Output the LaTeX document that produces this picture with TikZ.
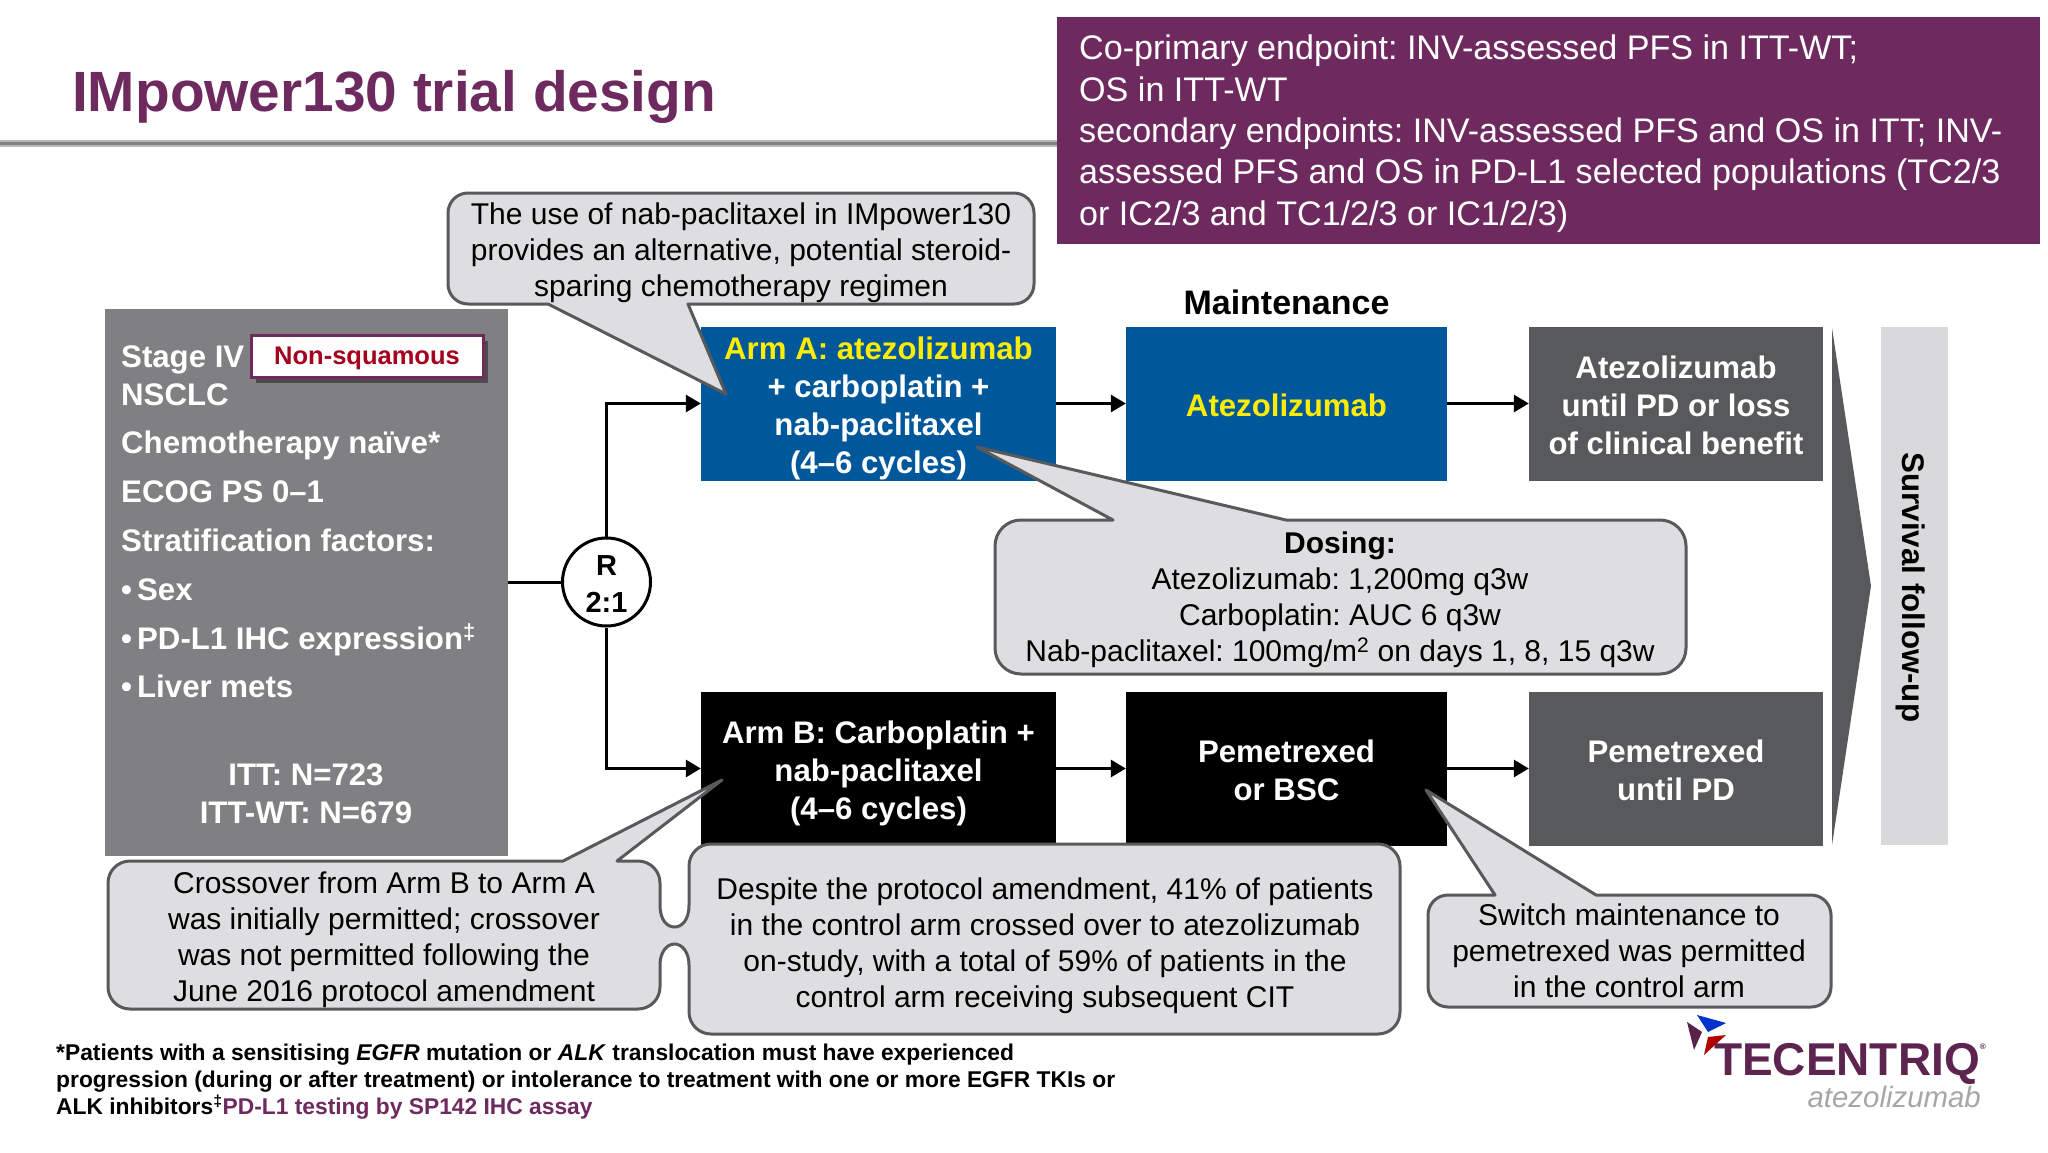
\documentclass[tikz,border=0pt]{standalone}
\usepackage{fontspec}
\setmainfont{Liberation Sans}
\usetikzlibrary{shapes.geometric, arrows.meta, shadows}
\definecolor{trialpurple}{HTML}{6E2A5E}
\definecolor{armblue}{HTML}{00589B}
\definecolor{darkgrey}{HTML}{58595B}
\definecolor{midgrey}{HTML}{808083}
\definecolor{bubblegrey}{HTML}{DEDDE0}
\definecolor{lightgrey}{HTML}{D9D9DB}
\definecolor{armyellow}{HTML}{FFED00}
\definecolor{squamred}{HTML}{A6001E}
\newcommand{\bodyfont}{\fontsize{31.2}{38}\bfseries\selectfont}
\newcommand{\notefont}{\fontsize{30}{36}\selectfont}
\newcommand{\lift}{\rule{0pt}{27pt}}
\tikzstyle{armbox} = [rectangle, minimum width=355pt, minimum height=154pt, inner sep=0pt, text centered, align=center, fill=armblue, text=white, font=\bodyfont]
\tikzstyle{maintbox} = [armbox, minimum width=321pt]
\tikzstyle{afterbox} = [armbox, minimum width=294pt, fill=darkgrey]
\tikzstyle{sidetext} = [anchor=base west, inner sep=0pt, text=white, font=\bodyfont]
\tikzstyle{bubble} = [draw=darkgrey, line width=3pt, fill=bubblegrey, line join=round]
\tikzstyle{bubbletext} = [inner sep=0pt, align=center, text=black, font=\notefont]
\tikzstyle{footnote} = [anchor=base west, inner sep=0pt, text=black, font=\fontsize{22.8}{27}\bfseries\selectfont]
\tikzstyle{arrow} = [line width=3pt,-{Triangle[length=15pt,width=17pt]}]
\begin{document}
\frenchspacing
\begin{tikzpicture}[x=1pt,y=-1pt]
    \useasboundingbox (0,0) rectangle (2048,1153);
    \fill [white] (0,0) rectangle (2048,1153);

    \node (title) [anchor=base west, inner sep=0pt, text=trialpurple, font=\fontsize{56.8}{60}\bfseries\selectfont] at (72,111.5) {IMpower130 trial design};
    \draw [line width=7pt, color=black!28] (0,143.5) -- (1057,143.5);
    \draw [line width=3pt, color=black!50] (0,143.5) -- (1057,143.5);
    \node (endpoints) [rectangle, anchor=north west, minimum width=983pt, minimum height=227pt, fill=trialpurple] at (1057,17) {};
    \node (endtext) [anchor=north west, inner sep=0pt, align=left, text=white, font=\fontsize{34.1}{41.3}\selectfont] at (1079,35) {Co-primary endpoint: INV-assessed PFS in ITT-WT;\\OS in ITT-WT\\secondary endpoints: INV-assessed PFS and OS in ITT; INV-\\assessed PFS and OS in PD-L1 selected populations (TC2/3\\or IC2/3 and TC1/2/3 or IC1/2/3)};

    \node (patients) [rectangle, anchor=north west, minimum width=403pt, minimum height=547pt, inner sep=0pt, fill=midgrey] at (104.5,309) {};
    \node (stage) [sidetext] at (121,367) {Stage IV};
    \node (nsclc) [sidetext] at (121,405) {NSCLC};
    \node (naive) [sidetext] at (121,453.5) {Chemotherapy naïve*};
    \node (ecog) [sidetext] at (121,502.5) {ECOG PS 0–1};
    \node (strat) [sidetext] at (121,551.5) {Stratification factors:};
    \node (sex) [sidetext] at (121,600.5) {\makebox[16pt][l]{•}Sex};
    \node (pdl) [sidetext] at (121,649) {\makebox[16pt][l]{•}PD-L1 IHC expression\textsuperscript{‡}};
    \node (liver) [sidetext] at (121,697.5) {\makebox[16pt][l]{•}Liver mets};
    \node (itt) [inner sep=0pt, align=center, text=white, font=\bodyfont] at (306,794) {ITT: N=723\\ITT-WT: N=679};
    \node (squam) [rectangle, anchor=north west, minimum width=232pt, minimum height=42pt, inner sep=0pt, draw=trialpurple, line width=3pt, fill=white, text=squamred, text height=22pt, text depth=5pt, font=\fontsize{25.5}{30}\bfseries\selectfont, drop shadow={shadow xshift=5pt, shadow yshift=-6pt, fill=black, opacity=0.4}] at (249.5,333.5) {Non-squamous};

    \node (rand) [circle, minimum size=88pt, inner sep=0pt, draw=black, line width=3pt, fill=white, align=center, font=\fontsize{29}{37}\bfseries\selectfont] at (606.5,582) {\rule{0pt}{24pt}R\\2:1};

    \node (armA) [armbox] at (878.5,403.5) {\rule{0pt}{32pt}\textcolor{armyellow}{Arm A: atezolizumab}\\+ carboplatin +\\nab-paclitaxel\\(4–6 cycles)};
    \node (armB) [armbox, fill=black, below of=armA, node distance=365pt] {\rule{0pt}{32pt}Arm B: Carboplatin +\\nab-paclitaxel\\(4–6 cycles)};
    \node (maintA) [maintbox, right of=armA, node distance=408pt] {\lift\textcolor{armyellow}{Atezolizumab}};
    \node (maintB) [maintbox, fill=black, right of=armB, node distance=408pt] {\lift Pemetrexed\\or BSC};
    \node (afterA) [afterbox, right of=maintA, node distance=389.5pt] {\lift Atezolizumab\\until PD or loss\\of clinical benefit};
    \node (afterB) [afterbox, right of=maintB, node distance=389.5pt] {\lift Pemetrexed\\until PD};
    \node (maintlabel) [above of=maintA, node distance=101.5pt, inner sep=0pt, font=\fontsize{34}{38}\bfseries\selectfont] {Maintenance};

    \fill [darkgrey] (1832,328) -- (1871,586) -- (1832,845) -- cycle;
    \node (survival) [rectangle, anchor=north west, minimum width=67pt, minimum height=518.5pt, inner sep=0pt, fill=lightgrey] at (1881,326.5) {};
    \node (survtext) [rotate=-90, inner sep=0pt, xshift=1.5pt, yshift=-4pt, font=\fontsize{31.3}{36}\bfseries\selectfont] at (survival.center) {Survival follow-up};

    \draw [line width=3pt] (patients.east |- rand) -- (rand);
    \draw [arrow] (rand.north) |- (armA.west);
    \draw [arrow] (rand.south) |- (armB.west);
    \draw [arrow] (armA) -- (maintA);
    \draw [arrow] (maintA) -- (afterA);
    \draw [arrow] (armB) -- (maintB);
    \draw [arrow] (maintB) -- (afterB);

    \draw [bubble, rounded corners=20pt] (448,193) -- (1034,193) -- (1034,304) [sharp corners] -- (688,304) -- (726,394) -- (548,304) [rounded corners=20pt] -- (448,304) -- cycle;
    \draw [bubble, rounded corners=26pt] (995,520) [sharp corners] -- (1113,520) -- (977,447) -- (1286,520) [rounded corners=26pt] -- (1686,520) -- (1686,674) -- (995,674) -- cycle;
    \draw [bubble, rounded corners=20pt] (1428,895) [sharp corners] -- (1495,895) -- (1426,790) -- (1596,895) [rounded corners=20pt] -- (1831,895) -- (1831,1007) -- (1428,1007) -- cycle;
    \draw [bubble, rounded corners=22pt] (108,861) [sharp corners] -- (563,861) -- (722,780) -- (617,861) [rounded corners=22pt] -- (660,861) [sharp corners] -- (660,905) .. controls (660,920) and (667,927) .. (674.5,927) .. controls (682,927) and (689,920) .. (689,905) [rounded corners=22pt] -- (689,844) -- (1400,844) -- (1400,1034) -- (689,1034) [sharp corners] -- (689,965) .. controls (689,952) and (682,944) .. (674.5,944) .. controls (667,944) and (660,952) .. (660,965) [rounded corners=22pt] -- (660,1009) -- (108,1009) -- cycle;

    \node (steroid) [bubbletext] at (741,252.5) {The use of nab-paclitaxel in IMpower130\\provides an alternative, potential steroid-\\sparing chemotherapy regimen};
    \node (dosing) [bubbletext] at (1340,600) {\textbf{Dosing:}\\Atezolizumab: 1,200mg q3w\\Carboplatin: AUC 6 q3w\\Nab-paclitaxel: 100mg/m\textsuperscript{2} on days 1, 8, 15 q3w};
    \node (cross) [bubbletext] at (384,939.5) {Crossover from Arm B to Arm A\\was initially permitted; crossover\\was not permitted following the\\June 2016 protocol amendment};
    \node (despite) [bubbletext] at (1045,946) {Despite the protocol amendment, 41\% of patients\\in the control arm crossed over to atezolizumab\\on-study, with a total of 59\% of patients in the\\control arm receiving subsequent CIT};
    \node (switch) [bubbletext] at (1629,950.5) {Switch maintenance to\\pemetrexed was permitted\\in the control arm};

    \node (fnone) [footnote] at (56,1060) {*Patients with a sensitising \textit{EGFR} mutation or \textit{ALK} translocation must have experienced};
    \node (fntwo) [footnote] at (56,1087) {progression (during or after treatment) or intolerance to treatment with one or more EGFR TKIs or};
    \node (fnthree) [footnote] at (56,1114) {ALK inhibitors\textsuperscript{‡}\textcolor{trialpurple}{PD-L1 testing by SP142 IHC assay}};

    \fill [blue!60!teal] (1697,1015) -- (1726,1023) -- (1708,1032) -- cycle;
    \fill [trialpurple!80!black] (1687,1022) -- (1702,1032) -- (1694,1050) -- cycle;
    \fill [red!70!black] (1726,1035) -- (1708,1037) -- (1704,1055) -- cycle;
    \node (logo) [anchor=base east, inner sep=0pt, text=trialpurple!85!black, font=\fontsize{46}{48}\bfseries\selectfont] at (1980,1075) {TECENTRIQ\rlap{\raisebox{26pt}{\fontsize{8}{8}\selectfont ®}}};
    \node (logosub) [anchor=base east, inner sep=0pt, text=black!35, font=\fontsize{29.4}{32}\itshape\selectfont] at (1981,1107) {atezolizumab};
\end{tikzpicture}
\end{document}
